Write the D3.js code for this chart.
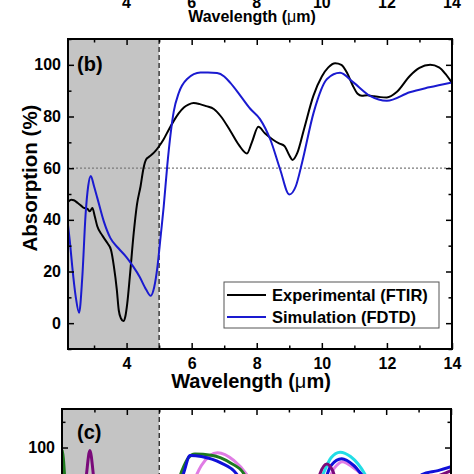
<!DOCTYPE html>
<html>
<head>
<meta charset="utf-8">
<script src="https://cdn.jsdelivr.net/npm/d3@7"></script>
<style>
  body { margin: 0; background: #fff; }
  svg { display: block; font-family: "Liberation Sans", Arial, sans-serif; }
  .axis path { display: none; }
  .axis line { stroke: #000; stroke-width: 1.5; }
  .axis text { font-size: 16px; font-weight: bold; fill: #000; }
</style>
</head>
<body>
<div id="chart"></div>
<script>
// ---- data ----
// panel (b): wavelength (um) and absorption (%)
const expWave = [2.2, 2.3, 2.38, 2.5, 2.6, 2.69, 2.8, 2.87, 2.95, 3.02, 3.1, 3.25, 3.41, 3.52, 3.61, 3.7, 3.76, 3.83, 3.9, 3.96, 4.02, 4.1, 4.22, 4.32, 4.43, 4.52, 4.6, 4.7, 4.84, 5.0, 5.14, 5.3, 5.45, 5.6, 5.76, 5.9, 6.06, 6.25, 6.45, 6.68, 6.9, 7.19, 7.45, 7.7, 7.85, 8.05, 8.25, 8.5, 8.7, 8.85, 9.0, 9.1, 9.25, 9.45, 9.74, 10.0, 10.2, 10.41, 10.6, 10.77, 10.95, 11.1, 11.23, 11.4, 11.6, 11.8, 12.0, 12.3, 12.71, 13.0, 13.33, 13.6, 13.8, 14.0];
const expAbs  = [47, 47.8, 47.6, 46.5, 45.5, 44.6, 44.2, 43.3, 44.6, 41.5, 37.5, 34, 31, 28.4, 22, 13, 5, 1.8, 0.8, 2.5, 7.6, 18, 35, 46, 53, 60, 63.4, 64.5, 66, 68.5, 71.2, 75, 78.3, 81.2, 83.5, 84.6, 85.2, 84.8, 84, 82.9, 80, 74.4, 69, 65.7, 70, 76, 73.5, 71, 69.5, 68.6, 65, 63.2, 66, 75, 88, 95.5, 99, 100.6, 100, 97, 92, 88.8, 88, 88.2, 87.8, 87.5, 87.4, 89.5, 95.8, 98.8, 100, 99, 96.5, 93];

const simWave = [2.2, 2.27, 2.33, 2.44, 2.54, 2.64, 2.74, 2.82, 2.9, 3.0, 3.1, 3.3, 3.5, 3.75, 4.0, 4.2, 4.4, 4.6, 4.74, 4.85, 4.95, 5.05, 5.14, 5.25, 5.35, 5.45, 5.6, 5.86, 6.27, 6.5, 6.78, 7.0, 7.19, 7.5, 7.8, 8.1, 8.42, 8.72, 9.0, 9.2, 9.39, 9.75, 10.16, 10.56, 10.97, 11.48, 12.0, 12.7, 13.3, 14.0];
const simAbs  = [38, 30, 22, 10, 4, 18, 42, 53, 57, 53, 48.5, 39.4, 33, 29, 25.5, 22, 18, 13, 10.6, 14, 22, 34, 45, 61, 73, 82, 89, 94.5, 97, 97, 96.8, 95.5, 93, 88, 83, 79, 71, 59.5, 49.8, 53, 62, 81.6, 94.5, 96.9, 93.2, 88, 86.1, 89.4, 91.3, 93.2];

const xTicksMajor = [4, 6, 8, 10, 12, 14];
const xTicksMinor = [3, 5, 7, 9, 11, 13];
const yTicksMajor = [0, 20, 40, 60, 80, 100];
const yTicksMinor = [-10, 10, 30, 50, 70, 90, 110];
const cutoffWave = 5;      // shaded region ends here
const guideAbs = 60;       // dotted reference line

const legendLabels = ["Experimental (FTIR)", "Simulation (FDTD)"];

// panel (c): only the top of it is in the frame
const cGreenWave  = [2.0, 2.04, 2.1, 2.2, 5.4, 5.7, 5.9, 6.1, 6.6, 7.2, 7.6, 7.9];
const cGreenAbs   = [99, 96, 85, 70, 80, 91, 96, 97.5, 97, 94, 90, 82];
const cBlueWave   = [5.5, 5.75, 5.95, 6.3, 6.9, 7.39, 7.6, 10.0, 10.3, 10.63, 11.0, 11.35, 12.8, 13.1, 13.6, 14.0];
const cBlueAbs    = [82, 90, 96.9, 96.5, 94, 89.6, 84, 85, 93, 95.6, 93, 88, 80, 89.5, 91, 92.5];
const cPinkWave   = [6.0, 6.3, 6.8, 7.3, 7.7, 8.0, 10.1, 10.4, 10.65, 11.0, 11.4];
const cPinkAbs    = [85, 93, 98, 95, 89.5, 83, 85, 92, 94.5, 92, 88];
const cCyanWave   = [9.8, 10.05, 10.3, 10.58, 10.9, 11.35, 11.6];
const cCyanAbs    = [82, 89.5, 96, 98.2, 96.5, 89.5, 83];
const cPurpleWave = [2.6, 2.75, 2.86, 2.97, 3.1, 9.85, 9.95, 10.17, 10.35, 10.5, 13.3, 14.0];
const cPurpleAbs  = [70, 89, 98.8, 89, 70, 85, 89.5, 93.6, 91, 86, 88, 91];
const cYTicksMajor = [100];
const cYTicksMinor = [110];

const W = 474, H = 474;
const svg = d3.select("#chart").append("svg")
    .attr("width", W)
    .attr("height", H);

const zip = (xs, ys) => xs.map((x, i) => ({ x: x, y: ys[i] }));

// ---- helper: boxed frame with inward ticks on all four sides ----
function drawFrame(g, x, y, opts) {
    const [x0, x1] = x.range();
    const [y0, y1] = y.range(); // y0 bottom, y1 top

    // bottom / top
    g.append("g").attr("class", "axis").attr("transform", `translate(0,${y0})`)
        .call(d3.axisBottom(x).tickValues(opts.xMajor).tickSize(-6).tickPadding(opts.xLabels ? 9 : 0)
            .tickFormat(opts.xLabels ? d3.format("d") : ""));
    g.append("g").attr("class", "axis").attr("transform", `translate(0,${y0})`)
        .call(d3.axisBottom(x).tickValues(opts.xMinor).tickSize(-3.5).tickFormat(""));
    g.append("g").attr("class", "axis").attr("transform", `translate(0,${y1})`)
        .call(d3.axisTop(x).tickValues(opts.xMajor).tickSize(-6).tickFormat(""));
    g.append("g").attr("class", "axis").attr("transform", `translate(0,${y1})`)
        .call(d3.axisTop(x).tickValues(opts.xMinor).tickSize(-3.5).tickFormat(""));

    // left / right
    g.append("g").attr("class", "axis").attr("transform", `translate(${x0},0)`)
        .call(d3.axisLeft(y).tickValues(opts.yMajor).tickSize(-6).tickPadding(7).tickFormat(d3.format("d")));
    g.append("g").attr("class", "axis").attr("transform", `translate(${x0},0)`)
        .call(d3.axisLeft(y).tickValues(opts.yMinor).tickSize(-3.5).tickFormat(""));
    g.append("g").attr("class", "axis").attr("transform", `translate(${x1},0)`)
        .call(d3.axisRight(y).tickValues(opts.yMajor).tickSize(-6).tickFormat(""));
    g.append("g").attr("class", "axis").attr("transform", `translate(${x1},0)`)
        .call(d3.axisRight(y).tickValues(opts.yMinor).tickSize(-3.5).tickFormat(""));

    g.append("rect")
        .attr("x", x0).attr("y", y1)
        .attr("width", x1 - x0).attr("height", y0 - y1)
        .attr("fill", "none")
        .attr("stroke", "#000")
        .attr("stroke-width", 2);
}

// ---- tail of the panel above (cut off by the crop) ----
const xTop = d3.scaleLinear().domain([2.2, 14]).range([68, 452]);
svg.append("g").selectAll("text")
    .data(xTicksMajor)
    .enter().append("text")
    .attr("x", d => xTop(d))
    .attr("y", 7.5)
    .attr("text-anchor", "middle")
    .style("font-size", "16px").style("font-weight", "bold")
    .text(d => d);
const topLabel = svg.append("text")
    .attr("x", 252).attr("y", 22)
    .attr("text-anchor", "middle")
    .style("font-size", "16px").style("font-weight", "bold");
topLabel.append("tspan").text("Wavelength (");
topLabel.append("tspan").style("font-weight", "normal").text("μ");
topLabel.append("tspan").text("m)");

// ---- panel (b) ----
const x = d3.scaleLinear().domain([2.2, 14]).range([68, 452]);
const y = d3.scaleLinear().domain([-10, 110]).range([349, 39]);

const gb = svg.append("g");
gb.append("clipPath").attr("id", "clipB")
    .append("rect").attr("x", 68).attr("y", 39).attr("width", 384).attr("height", 310);

gb.append("rect")
    .attr("x", x(2.2)).attr("y", y(110))
    .attr("width", x(cutoffWave) - x(2.2))
    .attr("height", y(-10) - y(110))
    .attr("fill", "#c4c4c4");

gb.append("line")
    .attr("x1", x(2.2)).attr("x2", x(14))
    .attr("y1", y(guideAbs)).attr("y2", y(guideAbs))
    .attr("stroke", "#7a7a7a").attr("stroke-width", 1.3)
    .attr("stroke-dasharray", "2,2");

gb.append("line")
    .attr("x1", x(cutoffWave)).attr("x2", x(cutoffWave))
    .attr("y1", y(110)).attr("y2", y(-10))
    .attr("stroke", "#222").attr("stroke-width", 1.3)
    .attr("stroke-dasharray", "5,3");

const line = d3.line()
    .x(d => x(d.x))
    .y(d => y(d.y))
    .curve(d3.curveMonotoneX);

gb.append("path")
    .datum(zip(expWave, expAbs))
    .attr("clip-path", "url(#clipB)")
    .attr("d", line)
    .attr("fill", "none")
    .attr("stroke", "#000")
    .attr("stroke-width", 2);

gb.append("path")
    .datum(zip(simWave, simAbs))
    .attr("clip-path", "url(#clipB)")
    .attr("d", line)
    .attr("fill", "none")
    .attr("stroke", "#1a1ad0")
    .attr("stroke-width", 2);

drawFrame(gb, x, y, { xMajor: xTicksMajor, xMinor: xTicksMinor, yMajor: yTicksMajor, yMinor: yTicksMinor, xLabels: true });

gb.append("text")
    .attr("x", 77).attr("y", 71)
    .style("font-size", "20px").style("font-weight", "bold")
    .text("(b)");

const xLabel = gb.append("text")
    .attr("x", 251).attr("y", 388)
    .attr("text-anchor", "middle")
    .style("font-size", "20px").style("font-weight", "bold");
xLabel.append("tspan").text("Wavelength (");
xLabel.append("tspan").style("font-weight", "normal").text("μ");
xLabel.append("tspan").text("m)");

gb.append("text")
    .attr("transform", "translate(37,178) rotate(-90)")
    .attr("text-anchor", "middle")
    .style("font-size", "20.5px").style("font-weight", "bold")
    .text("Absorption (%)");

// legend
const legend = gb.append("g");
legend.append("rect")
    .attr("x", 224).attr("y", 282)
    .attr("width", 215).attr("height", 46)
    .attr("fill", "#fff")
    .attr("stroke", "#555").attr("stroke-width", 1);
const legendColors = ["#000", "#1a1ad0"];
const legendRows = legend.selectAll(".row")
    .data(legendLabels)
    .enter().append("g")
    .attr("class", "row")
    .attr("transform", (d, i) => `translate(0,${295 + i * 22})`);
legendRows.append("line")
    .attr("x1", 227).attr("x2", 266)
    .attr("stroke", (d, i) => legendColors[i])
    .attr("stroke-width", 2);
legendRows.append("text")
    .attr("x", 272).attr("y", 6)
    .style("font-size", "16.5px").style("font-weight", "bold")
    .text(d => d);

// ---- panel (c), only the top strip shows ----
const xc = d3.scaleLinear().domain([2, 14]).range([62, 451]);
const yc = d3.scaleLinear().domain([-10, 115]).range([730, 409]);

const gc = svg.append("g");
gc.append("clipPath").attr("id", "clipC")
    .append("rect").attr("x", 62).attr("y", 409).attr("width", 389).attr("height", 321);

gc.append("rect")
    .attr("x", xc(2)).attr("y", yc(115))
    .attr("width", xc(cutoffWave) - xc(2))
    .attr("height", yc(-10) - yc(115))
    .attr("fill", "#c4c4c4");
gc.append("line")
    .attr("x1", xc(cutoffWave)).attr("x2", xc(cutoffWave))
    .attr("y1", yc(115)).attr("y2", yc(-10))
    .attr("stroke", "#222").attr("stroke-width", 1.3)
    .attr("stroke-dasharray", "5,3");

const lineC = d3.line()
    .x(d => xc(d.x))
    .y(d => yc(d.y))
    .curve(d3.curveMonotoneX);

const cSeries = [
    { color: "#e07ce4", wave: cPinkWave, abs: cPinkAbs },
    { color: "#1e7a1e", wave: cGreenWave, abs: cGreenAbs },
    { color: "#22dde6", wave: cCyanWave, abs: cCyanAbs },
    { color: "#1010d8", wave: cBlueWave, abs: cBlueAbs },
    { color: "#7a0a7a", wave: cPurpleWave, abs: cPurpleAbs }
];
cSeries.forEach(s => {
    gc.append("path")
        .datum(zip(s.wave, s.abs))
        .attr("clip-path", "url(#clipC)")
        .attr("d", lineC)
        .attr("fill", "none")
        .attr("stroke", s.color)
        .attr("stroke-width", 3);
});

drawFrame(gc, xc, yc, { xMajor: xTicksMajor, xMinor: xTicksMinor, yMajor: cYTicksMajor, yMinor: cYTicksMinor, xLabels: false });

gc.append("text")
    .attr("x", 77).attr("y", 439)
    .style("font-size", "20px").style("font-weight", "bold")
    .text("(c)");
</script>
</body>
</html>
